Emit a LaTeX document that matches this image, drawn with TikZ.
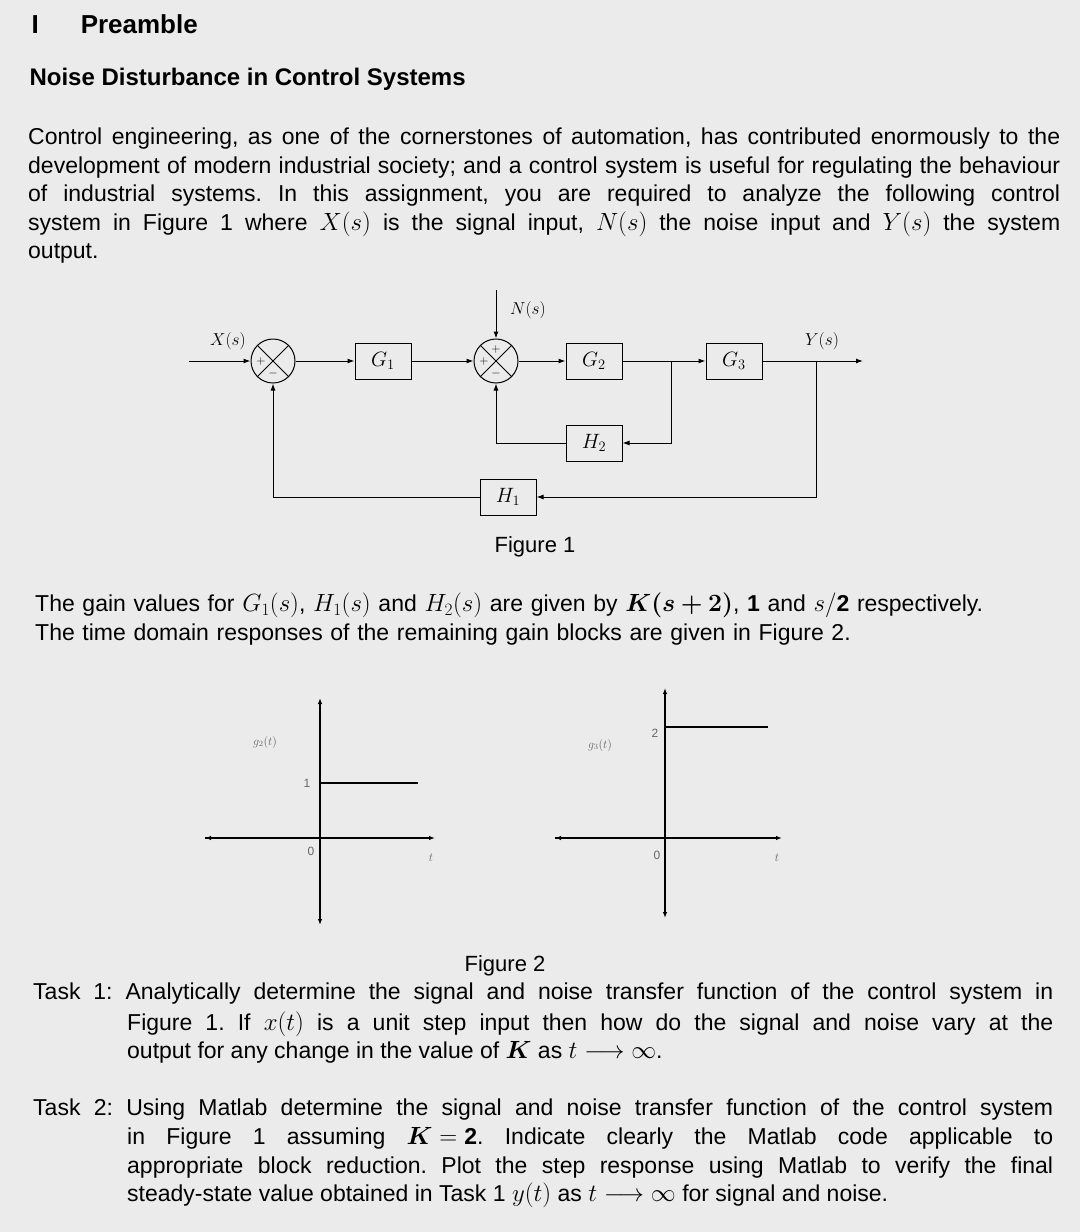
\documentclass[tikz,border=0pt]{standalone}
\usepackage{amsmath,bm}
\usepackage{fontspec}
\setmainfont{Liberation Sans}
\usetikzlibrary{arrows.meta}
\frenchspacing
\begin{document}
\begin{tikzpicture}[x=1pt,y=-1pt,
 blk/.style={draw,line width=1pt,minimum width=56pt,minimum height=36pt,font=\fontsize{20}{20}\selectfont},
 sumj/.style={draw,circle,line width=1pt,minimum size=44pt,inner sep=0pt},
 ln/.style={line width=1pt},
 ar/.style={ln,-{Latex[length=7pt,width=5pt]}},
 lab/.style={font=\fontsize{17}{17}\selectfont},
 para/.style={anchor=north west,align=justify,inner sep=0pt,font=\fontsize{23}{28.5}\selectfont},
 ax/.style={line width=1.2pt,{Latex[length=6pt]}-{Latex[length=6pt]}},
 stepline/.style={line width=2.5pt},
 small/.style={font=\fontsize{12}{12}\selectfont,text=black!60}]
\fill[black!8] (0,0) rectangle (1080,1232);
\useasboundingbox (0,0) rectangle (1080,1232);
% headers
\node[anchor=base west,font=\fontsize{26}{26}\selectfont\bfseries] (h1) at (28,33) {I\hspace{42pt}Preamble};
\node[anchor=base west,font=\fontsize{24}{24}\selectfont\bfseries] (h2) at (26,85) {Noise Disturbance in Control Systems};
\node[para,text width=1032pt] (p1) at (28,128) {Control engineering, as one of the cornerstones of automation, has contributed enormously to the\linebreak development of modern industrial society; and a control system is useful for regulating the behaviour\linebreak of industrial systems. In this assignment, you are required to analyze the following control\linebreak system in Figure 1 where $X(s)$ is the signal input, $N(s)$ the noise input and $Y(s)$ the system\linebreak output.};
% block diagram
\node[sumj] (s1) at (273,361) {};
\node[blk] (g1) at (383,361) {$G_1$};
\node[sumj] (s2) at (496,361) {};
\node[blk] (g2) at (594,361) {$G_2$};
\node[blk] (g3) at (734,361) {$G_3$};
\node[blk] (h2) at (594,443) {$H_2$};
\node[blk] (h1) at (508,497) {$H_1$};
\foreach \s in {s1,s2}{
 \draw[ln] (\s.north west) -- (\s.south east) (\s.north east) -- (\s.south west);
 \node[font=\fontsize{13}{13}\selectfont] at ([xshift=-12pt]\s.center) {$+$};
 \node[font=\fontsize{13}{13}\selectfont] at ([yshift=-12pt]\s.center) {$-$};}
\node[font=\fontsize{13}{13}\selectfont] at ([yshift=12pt]s2.center) {$+$};
\coordinate (xin) at (189,361);
\coordinate (nin) at (496,290);
\coordinate (br2) at (671,361);
\coordinate (br1) at (816,361);
\coordinate (yout) at (863,361);
\draw[ar] (xin) -- (s1);
\draw[ar] (s1) -- (g1);
\draw[ar] (g1) -- (s2);
\draw[ar] (s2) -- (g2);
\draw[ar] (g2) -- (g3);
\draw[ar] (g3) -- (yout);
\draw[ar] (nin) -- (s2);
\draw[ar] (br2) |- (h2);
\draw[ar] (h2) -| (s2);
\draw[ar] (br1) |- (h1);
\draw[ar] (h1) -| (s1);
\node[lab] (xl) at (228,341) {$X(s)$};
\node[lab] (nl) at (528,310) {$N(s)$};
\node[lab] (yl) at (822,341) {$Y(s)$};
\node[anchor=base,font=\fontsize{22}{22}\selectfont] (f1) at (535,552) {Figure 1};
\node[para,text width=1000pt,align=left] (p2) at (35,593) {The gain values for $G_1(s)$, $H_1(s)$ and $H_2(s)$ are given by $\bm{K(s+2)}$, \textbf{1} and $s/\mathbf{2}$ respectively.\\The time domain responses of the remaining gain blocks are given in Figure 2.};
% figure 2
\coordinate (a1l) at (205,838); \coordinate (a1r) at (435,838);
\coordinate (a1t) at (320,698); \coordinate (a1b) at (320,925);
\draw[ax] (a1l) -- (a1r);
\draw[ax] (a1b) -- (a1t);
\draw[stepline] (205,838) -- (320,838) -- (320,783) -- (418,783);
\node[small] (g2l) at (265,742) {$g_2(t)$};
\node[small] (one) at (307,783) {1};
\node[small] (z1) at (311,851) {0};
\node[small] (t1) at (431,858) {$t$};
\coordinate (a2l) at (555,838); \coordinate (a2r) at (782,838);
\coordinate (a2t) at (665,688); \coordinate (a2b) at (665,918);
\draw[ax] (a2l) -- (a2r);
\draw[ax] (a2b) -- (a2t);
\draw[stepline] (555,838) -- (665,838) -- (665,727) -- (768,727);
\node[small] (g3l) at (600,745) {$g_3(t)$};
\node[small] (two) at (655,733) {2};
\node[small] (z2) at (657,855) {0};
\node[small] (t2) at (777,858) {$t$};
\node[anchor=base,font=\fontsize{22}{22}\selectfont] (f2) at (505,971) {Figure 2};
\node[para,text width=1020pt] (t1a) at (33,983) {Task 1: Analytically determine the signal and noise transfer function of the control system in\linebreak};
\node[para,text width=926pt] (t1b) at (127,1011.5) {Figure 1. If $x(t)$ is a unit step input then how do the signal and noise vary at the\linebreak output for any change in the value of $\bm{K}$ as $t\longrightarrow\infty$.};
\node[para,text width=1020pt] (t2a) at (33,1099) {Task 2: Using Matlab determine the signal and noise transfer function of the control system\linebreak};
\node[para,text width=926pt] (t2b) at (127,1127.5) {in Figure 1 assuming $\thickmuskip=5mu\bm{K}=\mathbf{2}$. Indicate clearly the Matlab code applicable to\linebreak appropriate block reduction. Plot the step response using Matlab to verify the final\linebreak steady-state value obtained in Task 1 $y(t)$ as $t\longrightarrow\infty$ for signal and noise.};
\end{tikzpicture}
\end{document}
